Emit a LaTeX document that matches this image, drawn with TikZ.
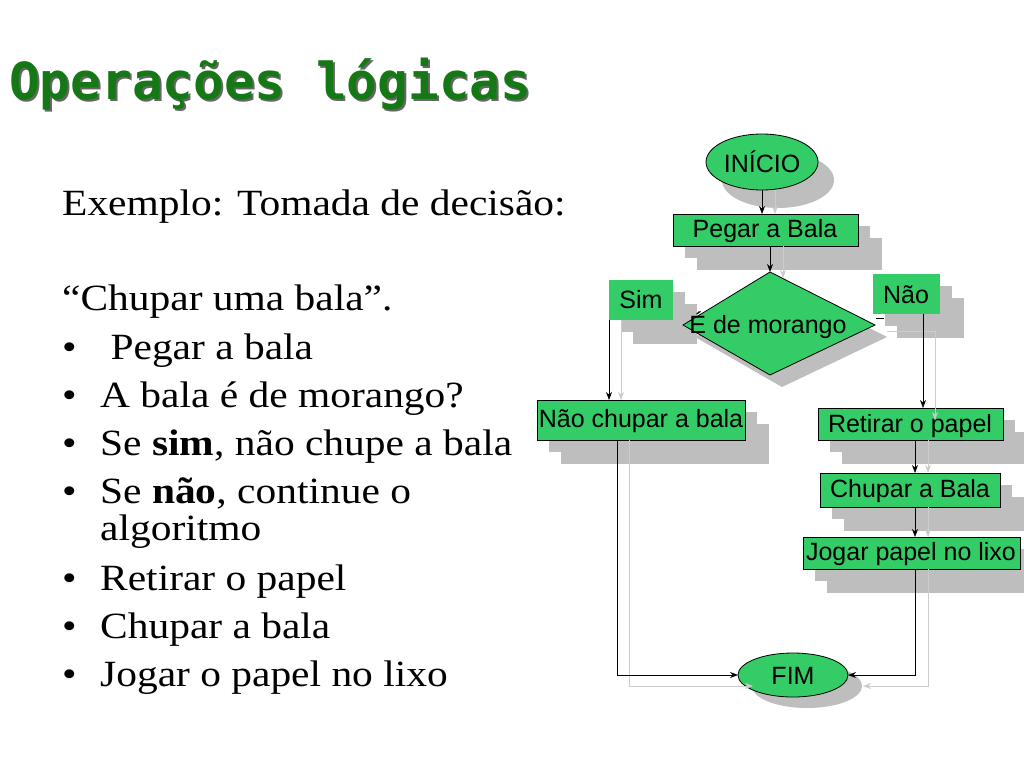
\documentclass[tikz,border=0pt]{standalone}
\usepackage{fontspec}
\setmainfont{Liberation Serif}[FakeStretch=1.12]
\newfontfamily\diag{Liberation Sans}
\newfontfamily\ttl{DejaVu Sans Mono}
\usetikzlibrary{shapes.geometric,arrows.meta}
\definecolor{fg}{RGB}{51,204,102}
\definecolor{sh}{RGB}{190,190,190}
\definecolor{tg}{RGB}{20,120,20}
\begin{document}
\begin{tikzpicture}[x=1pt,y=-1pt,
  box/.style={draw=black,fill=fg,line width=0.8pt},
  shd/.style={fill=sh},
  lbl/.style={font=\diag\fontsize{25}{27}\selectfont,anchor=center,inner sep=0pt},
  con/.style={-{Stealth[length=8pt,width=6pt]},line width=0.7pt},
  gcon/.style={-{Stealth[length=8pt,width=6pt]},line width=0.7pt,draw=black!20},
  body/.style={anchor=base west,font=\fontsize{37}{40}\selectfont,inner sep=0pt}]
\useasboundingbox (0,0) rectangle (1024,768);
\fill[white] (0,0) rectangle (1024,768);
% title
\node[anchor=base west,inner sep=0pt,text=black!60,font=\ttl\bfseries\fontsize{51}{54}\selectfont] at (11,101) {Operações lógicas};
\node[anchor=base west,inner sep=0pt,text=tg,font=\ttl\bfseries\fontsize{51}{54}\selectfont] (title) at (9,99) {Operações lógicas};
% body text
\node[body] (t1) at (62,215) {Exemplo: Tomada de decisão:};
\node[body] (t2) at (62,310) {“Chupar uma bala”.};
\foreach \y/\t [count=\i] in {359/{\ Pegar a bala},407/{A bala é de morango?},455/{Se \textbf{sim}, não chupe a bala},503/{Se \textbf{não}, continue o},590/{Retirar o papel},638/{Chupar a bala},686/{Jogar o papel no lixo}}{
  \node[body] (b\i) at (62,\y) {\textbullet};
  \node[body] (bt\i) at (100,\y) {\t};
}
\node[body] (alg) at (100,540) {algoritmo};
% shadows
\foreach \a/\b/\c/\d in {673/214/858/246,609/280/673/320,873/274/940/314,537/400/745/440,818/408/1003/440,820/473/1000/507,803/537/1020/569}{
  \fill[shd] (\a+24,\b+24) rectangle (\c+24,\d+24);
  \fill[shd] (\a+12,\b+12) rectangle (\c+12,\d+12);
}
\fill[shd] (782,284) -- (887,337) -- (782,387) -- (695,337) -- cycle;
\fill[shd] (778,180) ellipse (56 and 28);
\fill[shd] (807,686) ellipse (55 and 22);
% shapes
\draw[box] (762,162) ellipse (56 and 28);
\node[lbl] (ini) at (762,162) {INÍCIO};
\draw[box] (673,214) rectangle (858,246);
\node[lbl] (peg) at (765,231) {Pegar a Bala};
\draw[box] (770,272) -- (875,325) -- (770,375) -- (683,325) -- cycle;
\node[lbl] (dia) at (768,325) {É de morango};
\fill[fg] (609,280) rectangle (673,320);
\node[lbl] (sim) at (641,300) {Sim};
\fill[fg] (873,274) rectangle (940,314);
\node[lbl] (nao) at (906,295) {Não};
\draw[box] (537,400) rectangle (745,440);
\node[lbl] (ncb) at (641,421) {Não chupar a bala};
\draw[box] (818,408) rectangle (1003,440);
\node[lbl] (ret) at (910,426) {Retirar o papel};
\draw[box] (820,473) rectangle (1000,507);
\node[lbl] (chu) at (910,491) {Chupar a Bala};
\draw[box] (803,537) rectangle (1020,569);
\node[lbl] (jog) at (911,554) {Jogar papel no lixo};
\draw[box] (793,675) ellipse (55 and 22);
\node[lbl] (fim) at (793,676) {FIM};
% gray connectors
\draw[gcon] (775,190) -- (775,214);
\draw[gcon] (783,246) -- (783,278);
\draw[gcon] (621,320) -- (621,400);
\draw[gcon] (887,331) -- (935,331) -- (935,420);
\draw[gcon] (928,440) -- (928,473);
\draw[gcon] (928,507) -- (928,537);
\draw[gcon] (928,569) -- (928,686) -- (863,686);
\draw[gcon] (629,440) -- (629,686) -- (753,686);
% connectors
\draw[con] (762,190) -- (762,214);
\draw[con] (770,246) -- (770,272);
\draw[con] (609,320) -- (609,400);
\draw[line width=0.7pt] (876,318) -- (884,318);
\draw[con] (923,314) -- (923,408);
\draw[con] (915,440) -- (915,473);
\draw[con] (915,507) -- (915,537);
\draw[con] (915,569) -- (915,675) -- (848,675);
\draw[con] (617,440) -- (617,675) -- (738,675);
\end{tikzpicture}
\end{document}
